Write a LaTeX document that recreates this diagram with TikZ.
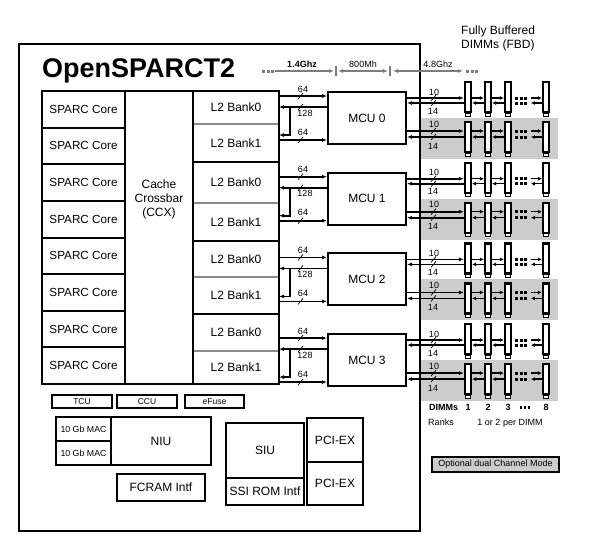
\documentclass[tikz,border=0pt]{standalone}
\usepackage{fontspec}
\setmainfont{Liberation Sans}
\usepackage[svgnames]{xcolor}
\usetikzlibrary{calc, positioning, arrows.meta}
\definecolor{bandgray}{RGB}{204,204,204}
\definecolor{scalegray}{RGB}{125,125,125}
\definecolor{divgray}{RGB}{140,140,140}
\tikzset{>={Latex[length=5pt,width=4pt]}}
\tikzset{
  fsz/.style={font=\fontsize{#1}{14}\selectfont},
  blk/.style={draw, line width=2pt, inner sep=0pt},
  smallblk/.style={draw, line width=1.8pt, inner sep=0pt, fsz=8.5},
  bus/.style={line width=1.8pt},
  sbus/.style={line width=1.4pt, >={Latex[length=4pt,width=4pt]}},
  wtick/.style={line width=0.7pt},
  wlbl/.style={fsz=9, inner sep=0pt},
  wlblb/.style={font=\fontsize{9}{14}\selectfont\bfseries, inner sep=0pt},
  dimm/.style={draw, line width=2.2pt, fill=white, minimum width=6, minimum height=30, inner sep=0pt},
  scl/.style={scalegray, line width=1.5pt, >={Latex[length=5pt,width=4pt]}},
  sdots/.style={line width=3pt, dash pattern=on 3pt off 1.5pt},
}

\begin{document}
\begin{tikzpicture}[x=1pt, y=-1pt]
\useasboundingbox (0,0) rectangle (589,549);

% die outline and title
\node[blk, minimum width=401, minimum height=487, anchor=north west] (die) at (18,43) {};
\node[anchor=base west, inner sep=0pt, font=\fontsize{27}{27}\selectfont\bfseries] (title) at (42,77) {OpenSPARCT2};

% cores and crossbar
\foreach \ci in {1,...,8}
  \node[blk, minimum width=83, minimum height=36.625, fsz=11.7] (core\ci) at (83.5,{91+36.625*(\ci-0.5)}) {SPARC Core};
\node[blk, minimum width=68, minimum height=293] (ccx) at (159,237.5) {};
\node[fsz=12, align=center] (ccxlbl) at (159,199) {Cache\\Crossbar\\(CCX)};

% L2 banks
\foreach \ci/\ya/\yb/\bank in {1/91/124/0, 2/124/162/1, 3/162/203/0, 4/203/241/1, 5/241/277/0, 6/277/314/1, 7/314/351/0, 8/351/384/1}
  \node[minimum width=86, minimum height={\yb-\ya}, inner sep=0pt, outer sep=0pt, fsz=12] (l2-\ci) at (236,{(\ya+\yb)/2}) {L2 Bank\bank};
\foreach \ci in {1,3,5,7}
  \draw[divgray, line width=1.4pt] (l2-\ci.south west) -- (l2-\ci.south east);
\foreach \ci in {2,4,6}
  \draw[line width=1.4pt] (l2-\ci.south west) -- (l2-\ci.south east);
\draw[line width=2pt] (l2-1.north west) rectangle (l2-8.south east);

% memory controllers
\foreach \m in {0,...,3}
  \node[blk, minimum width=78, minimum height=52, fsz=12] (mcu\m) at (367,{118+80.7*\m}) {MCU \m};

% shaded second channel
\foreach \m in {0,...,3}
  \fill[bandgray] (421,{118+80.7*\m}) rectangle (558,{159+80.7*\m});

% DIMMs
\foreach \m in {0,...,3}
 \foreach \row/\dy in {a/5,b/45}
  \foreach \col/\x in {1/468,2/488,3/508,8/546} {
   \node[dimm] (d\m\row\col) at (\x,{92+80.7*\m+\dy}) {};
   \draw[line width=1.2pt, fill=white] ($(d\m\row\col.south)+(-2.5,0)$) rectangle ($(d\m\row\col.south)+(2.5,3)$);
  }

% L2 <-> MCU
\foreach \m [evaluate=\m as \ia using int(2*\m+1), evaluate=\m as \ib using int(2*\m+2)] in {0,...,3} {
  \coordinate (rd\m) at ($(mcu\m.north west)+(0,5)$);
  \coordinate (wr\m) at ($(mcu\m.north west)+(0,16)$);
  \coordinate (rt\m) at ($(mcu\m.north west)+(0,44)$);
  \coordinate (rb\m) at ($(mcu\m.north west)+(0,49)$);
  \draw[bus,->] (rd\m -| l2-\ia.east) -- (rd\m);
  \draw[bus,->] (wr\m) -- (wr\m -| l2-\ia.east);
  \draw[bus,->] ($(wr\m -| l2-\ia.east)+(11,0)$) |- (rt\m -| l2-\ib.east);
  \draw[bus,->] (rb\m -| l2-\ib.east) -- (rb\m);
  \foreach \wn in {rd,wr,rb}
    \draw[wtick] ($(\wn\m -| l2-\ia.east)+(19,3)$) -- ++(5,-6);
  \node[wlbl] (w64a\m) at ($(rd\m -| l2-\ia.east)+(24,-7)$) {64};
  \node[wlbl] (w128\m) at ($(wr\m -| l2-\ia.east)+(26,6)$) {128};
  \node[wlbl] (w64b\m) at ($(rb\m -| l2-\ib.east)+(24,-8)$) {64};
}

% MCU <-> DIMMs
\foreach \m in {0,...,3} {
  \coordinate (ca\m) at ($(mcu\m.north east)+(0,7)$);
  \coordinate (cc\m) at ($(mcu\m.north east)+(0,12)$);
  \coordinate (cb\m) at ($(mcu\m.north east)+(0,40)$);
  \coordinate (cd\m) at ($(mcu\m.north east)+(0,46)$);
  \draw[bus,->] (ca\m) -- (ca\m -| d\m a1.west);
  \draw[bus,<-] (cc\m) -- (cc\m -| d\m a1.west);
  \draw[bus,->] (cb\m) -- (cb\m -| d\m b1.west);
  \draw[bus,<-] (cd\m) -- (cd\m -| d\m b1.west);
  \foreach \wn in {ca,cc,cb,cd}
    \draw[wtick] ($(\wn\m)+(24,3)$) -- ++(5,-6);
  \node[wlbl] (sa\m) at ($(mcu\m.north east)+(27,1)$) {10};
  \node[wlbl] (na\m) at ($(mcu\m.north east)+(26,20)$) {14};
  \node[wlbl] (sb\m) at ($(mcu\m.north east)+(27,33)$) {10};
  \node[wlbl] (nb\m) at ($(mcu\m.north east)+(26,55)$) {14};
  \foreach \row/\yr/\yl in {a/ca/cc, b/cb/cd} {
    \foreach \col/\nx in {1/2, 2/3} {
      \draw[sbus,->] (\yr\m -| d\m\row\col.east) -- (\yr\m -| d\m\row\nx.west);
      \draw[sbus,<-] (\yl\m -| d\m\row\col.east) -- (\yl\m -| d\m\row\nx.west);
    }
    \draw[sdots] ($(\yr\m -| d\m\row3.east)+(3,0)$) -- ++(12,0);
    \draw[sdots] ($(\yl\m -| d\m\row3.east)+(3,0)$) -- ++(12,0);
    \draw[sbus,->] ($(\yr\m -| d\m\row8.west)+(-11,0)$) -- (\yr\m -| d\m\row8.west);
    \draw[sbus,<-] ($(\yl\m -| d\m\row8.west)+(-11,0)$) -- (\yl\m -| d\m\row8.west);
  }
}

% clock domains
\coordinate (fa) at (336,71);
\coordinate (fb) at (390,71);
\draw[scl, sdots] (262,71) -- (275,71);
\draw[scl,->] (275,71) -- ($(fa)+(-2,0)$);
\draw[scl] ($(fa)+(0,-5)$) -- ($(fa)+(0,5)$);
\draw[scl,<->] ($(fa)+(2,0)$) -- ($(fb)+(-2,0)$);
\draw[scl] ($(fb)+(0,-5)$) -- ($(fb)+(0,5)$);
\draw[scl,<->] ($(fb)+(3,0)$) -- (463,71);
\draw[scl, sdots] (466,71) -- (478,71);
\node[wlblb] (clkcore) at (302,64) {1.4Ghz};
\node[wlbl] (clkmcu) at (363,64) {800Mh};
\node[wlbl] (clkfbd) at (438,64) {4.8Ghz};
\node[fsz=12, align=left, anchor=west, inner sep=0pt] (fbd) at (461,38) {Fully Buffered\\DIMMs (FBD)};

% DIMM legend
\node[wlblb, below=9pt of d3b1] (num1) {1};
\node[wlblb, below=9pt of d3b2] (num2) {2};
\node[wlblb, below=9pt of d3b3] (num3) {3};
\node[wlblb, below=9pt of d3b8] (num8) {8};
\node[wlblb, left=7pt of num1] (dimmslbl) {DIMMs};
\draw[line width=2.5pt, dash pattern=on 2.5pt off 1.5pt] ($(num3.east)+(9,0)$) -- ++(12,0);
\node[wlbl] (rankslbl) at (441,422) {Ranks};
\node[wlbl] (perdimm) at (510,423) {1 or 2 per DIMM};
\node[blk, fill=bandgray, minimum width=127, minimum height=15, fsz=9] (dual) at (495.5,464.5) {Optional dual Channel Mode};

% misc units
\node[smallblk, minimum width=60, minimum height=13] (tcu) at (82,401.5) {TCU};
\node[smallblk, minimum width=60, minimum height=13] (ccu) at (147,401.5) {CCU};
\node[smallblk, minimum width=59, minimum height=13] (efuse) at (214.5,401.5) {eFuse};
\node[blk, minimum width=55, minimum height=24, fsz=8.8] (mac1) at (83.5,429) {10 Gb MAC};
\node[blk, minimum width=55, minimum height=24, fsz=8.8] (mac2) at (83.5,453) {10 Gb MAC};
\node[blk, minimum width=100, minimum height=48, fsz=12] (niu) at (161,441) {NIU};
\node[blk, minimum width=88, minimum height=27, fsz=12] (fcram) at (161,487.5) {FCRAM Intf};
\node[blk, minimum width=78, minimum height=55, fsz=12] (siu) at (265,450.5) {SIU};
\node[blk, minimum width=78, minimum height=27, fsz=12] (ssi) at (265,491.5) {SSI ROM Intf};
\node[blk, minimum width=56, minimum height=44, fsz=12] (pci1) at (335,440) {PCI-EX};
\node[blk, minimum width=56, minimum height=43, fsz=12] (pci2) at (335,483.5) {PCI-EX};
\end{tikzpicture}
\end{document}
